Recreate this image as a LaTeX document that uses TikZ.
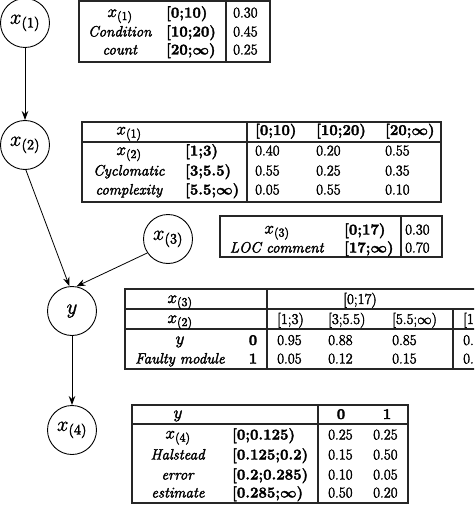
\documentclass[tikz,border=0pt]{standalone}
\usepackage{amsmath}
\usetikzlibrary{arrows.meta}
\newcommand\hv{\special{pdf:literal direct 2 Tr 0.35 w}}
\begin{document}
\begin{tikzpicture}[x=1pt,y=-1pt,
  every node/.style={font=\fontsize{15}{18}\selectfont\hv},
  var/.style={draw, circle, minimum size=49pt, inner sep=0pt, line width=0.9pt, font=\fontsize{20}{24}\selectfont\hv},
  edge/.style={line width=0.8pt, -{Stealth[length=9pt,width=6.5pt]}},
  tab/.style={line width=1.1pt, draw=black!85},
  lab/.style={anchor=base, inner sep=0pt},
  lft/.style={anchor=base west, inner sep=0pt},
  mth/.style={font=\fontsize{17.5}{20}\selectfont\hv},
  bl/.style={font=\fontsize{15}{18}\selectfont\bfseries\boldmath\hv}]
\useasboundingbox (0,0) rectangle (474,505);
\clip (0,0) rectangle (474,505);

% variable nodes
\node[var] (x1) at (25,23) {$x_{(1)}$};
\node[var] (x2) at (25,145) {$x_{(2)}$};
\node[var] (x3) at (168,239) {$x_{(3)}$};
\node[var] (y)  at (72,311) {$y$};
\node[var] (x4) at (72,430) {$x_{(4)}$};

\draw[edge] (x1.south) -- (x2.north);
\draw[edge] (x2.-88) -- (y.96);
\draw[edge] (x3.214) -- (y.80);
\draw[edge] (y.south) -- (x4.north);

% table 1
\draw[tab] (79,1) rectangle (270,62);
\draw[tab] (226,1) -- (226,62);
\node[lab,mth] (t1a1) at (120,17) {$x_{(1)}$};
\node[lab] (t1a2) at (120,36.5) {\textit{Condition}};
\node[lab] (t1a3) at (120,54.5) {\textit{count}};
\node[lft,bl] (t1b1) at (166,17.5) {[0;10)};
\node[lft,bl] (t1b2) at (166,36.5) {[10;20)};
\node[lft,bl] (t1b3) at (166,54.5) {[20;$\infty$)};
\node[lft] (t1c1) at (233,17.5) {0.30};
\node[lft] (t1c2) at (233,36.5) {0.45};
\node[lft] (t1c3) at (233,54.5) {0.25};

% table 2
\draw[tab] (82,122) rectangle (441,202);
\draw[tab] (82,142) -- (441,142);
\draw[tab] (247,122) -- (247,202);
\node[lab,mth] (t2h0) at (129,134.5) {$x_{(1)}$};
\node[lft,bl] (t2h1) at (255,135) {[0;10)};
\node[lft,bl] (t2h2) at (316,135) {[10;20)};
\node[lft,bl] (t2h3) at (385,135) {[20;$\infty$)};
\node[lab,mth] (t2a1) at (129,155) {$x_{(2)}$};
\node[lab] (t2a2) at (129,175.5) {\textit{Cyclomatic}};
\node[lab] (t2a3) at (129,194.5) {\textit{complexity}};
\node[lft,bl] (t2b1) at (185,155.5) {[1;3)};
\node[lft,bl] (t2b2) at (185,175.5) {[3;5.5)};
\node[lft,bl] (t2b3) at (185,194.5) {[5.5;$\infty$)};
\node[lft] (t2c11) at (255,155.5) {0.40};
\node[lft] (t2c12) at (316,155.5) {0.20};
\node[lft] (t2c13) at (385,155.5) {0.55};
\node[lft] (t2c21) at (255,175.5) {0.55};
\node[lft] (t2c22) at (316,175.5) {0.25};
\node[lft] (t2c23) at (385,175.5) {0.35};
\node[lft] (t2c31) at (255,194.5) {0.05};
\node[lft] (t2c32) at (316,194.5) {0.55};
\node[lft] (t2c33) at (385,194.5) {0.10};

% table 3
\draw[tab] (220,216) rectangle (442,257);
\draw[tab] (401,216) -- (401,257);
\node[lab,mth] (t3a1) at (277,233.5) {$x_{(3)}$};
\node[lab] (t3a2) at (277,252.5) {\textit{LOC comment}};
\node[lft,bl] (t3b1) at (344,234.5) {[0;17)};
\node[lft,bl] (t3b2) at (344,252.5) {[17;$\infty$)};
\node[lft] (t3c1) at (405,234.5) {0.30};
\node[lft] (t3c2) at (405,252.5) {0.70};

% table 4
\draw[tab] (480,289) -- (125,289) -- (125,369) -- (480,369);
\draw[tab] (125,309) -- (480,309);
\draw[tab] (125,329) -- (480,329);
\draw[tab] (267,289) -- (267,369);
\draw[tab] (453,309) -- (453,369);
\node[lab,mth] (t4h1) at (180,303) {$x_{(3)}$};
\node[lab] (t4h2) at (360,304) {[0;17)};
\node[lab,mth] (t4g0) at (180,323) {$x_{(2)}$};
\node[lft] (t4g1) at (277,324) {[1;3)};
\node[lft] (t4g2) at (328,324) {[3;5.5)};
\node[lft] (t4g3) at (392,324) {[5.5;$\infty$)};
\node[lft] (t4g4) at (463,324) {[1;3)};
\node[lab,mth] (t4a1) at (180,344) {$y$};
\node[lab] (t4a2) at (180,363.5) {\textit{Faulty module}};
\node[lab,bl] (t4b1) at (253,345) {0};
\node[lab,bl] (t4b2) at (253,363.5) {1};
\node[lft] (t4c11) at (277,345) {0.95};
\node[lft] (t4c12) at (328,345) {0.88};
\node[lft] (t4c13) at (392,345) {0.85};
\node[lft] (t4c14) at (463,345) {0.};
\node[lft] (t4c21) at (277,363.5) {0.05};
\node[lft] (t4c22) at (328,363.5) {0.12};
\node[lft] (t4c23) at (392,363.5) {0.15};
\node[lft] (t4c24) at (463,363.5) {0.};

% table 5
\draw[tab] (132,405) rectangle (408,503);
\draw[tab] (132,424) -- (408,424);
\draw[tab] (318,405) -- (318,503);
\node[lab,mth] (t5h0) at (178,418) {$y$};
\node[lab,bl] (t5h1) at (341,419) {0};
\node[lab,bl] (t5h2) at (387,419) {1};
\node[lab,mth] (t5a1) at (178,438.5) {$x_{(4)}$};
\node[lab] (t5a2) at (178,459.5) {\textit{Halstead}};
\node[lab] (t5a3) at (178,479.5) {\textit{error}};
\node[lab] (t5a4) at (178,497.5) {\textit{estimate}};
\node[lft,bl] (t5b1) at (232,439.5) {[0;0.125)};
\node[lft,bl] (t5b2) at (232,459.5) {[0.125;0.2)};
\node[lft,bl] (t5b3) at (232,479.5) {[0.2;0.285)};
\node[lft,bl] (t5b4) at (232,497.5) {[0.285;$\infty$)};
\node[lft] (t5c11) at (328,439.5) {0.25};
\node[lft] (t5c12) at (373,439.5) {0.25};
\node[lft] (t5c21) at (328,459.5) {0.15};
\node[lft] (t5c22) at (373,459.5) {0.50};
\node[lft] (t5c31) at (328,479.5) {0.10};
\node[lft] (t5c32) at (373,479.5) {0.05};
\node[lft] (t5c41) at (328,497.5) {0.50};
\node[lft] (t5c42) at (373,497.5) {0.20};
\end{tikzpicture}
\end{document}
